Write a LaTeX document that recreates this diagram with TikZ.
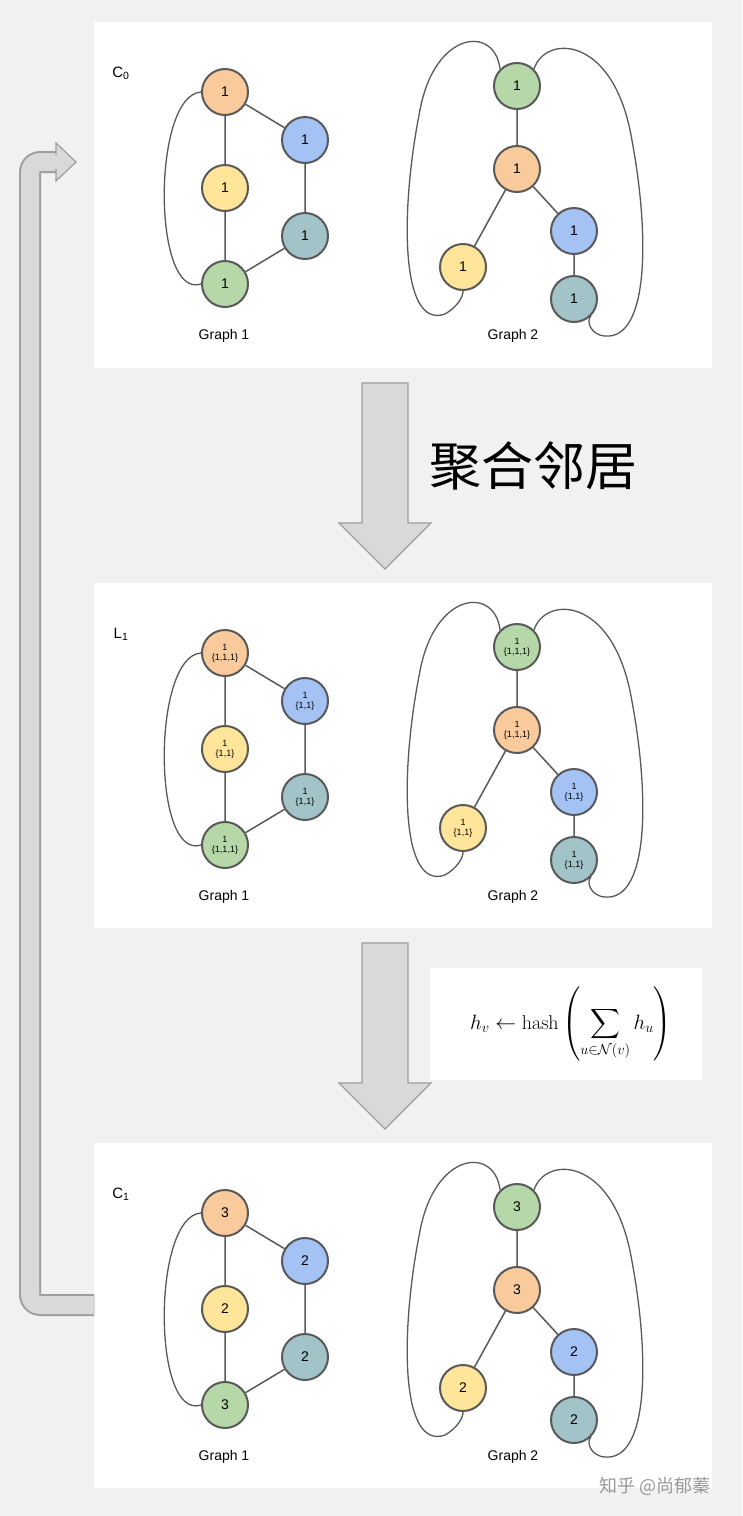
\documentclass[tikz,border=0pt]{standalone}
\usepackage{fontspec}
\setmainfont{Liberation Sans}
\newfontfamily\cjk{Noto Sans CJK SC}
\newfontfamily\lmr{Latin Modern Roman}
\usepackage{amsmath}
\usetikzlibrary{calc}
\definecolor{cor}{HTML}{F9CB9C}
\definecolor{cye}{HTML}{FFE599}
\definecolor{cgr}{HTML}{B6D7A8}
\definecolor{cbl}{HTML}{A4C2F4}
\definecolor{cte}{HTML}{A2C4C9}
\definecolor{edge}{HTML}{595959}
\definecolor{bg}{HTML}{F1F1F1}
\definecolor{arrfill}{HTML}{D9D9D9}
\definecolor{arrline}{HTML}{9E9E9E}
\tikzset{
 gn/.style={circle,draw=edge,line width=2pt,minimum size=46pt,inner sep=0pt,font=\fontsize{14}{14}\selectfont,align=center},
 ed/.style={draw=edge,line width=1.5pt},
 lp/.style={draw=edge,line width=1.3pt},
 panel/.style={fill=white,draw=none},
 bigarrow/.style={fill=arrfill,draw=arrline,line width=1.2pt},
}
\newcommand\gone[7]{%
 \begin{scope}[yshift=-#1pt]
 \node[gn,fill=cor,font=#7] (#2o) at (225,92) {#3};
 \node[gn,fill=cye,font=#7] (#2y) at (225,188) {#4};
 \node[gn,fill=cgr,font=#7] (#2g) at (225,284) {#3};
 \node[gn,fill=cbl,font=#7] (#2b) at (305,140) {#5};
 \node[gn,fill=cte,font=#7] (#2t) at (305,236) {#6};
 \draw[ed] (#2o)--(#2y) (#2y)--(#2g) (#2o)--(#2b) (#2b)--(#2t) (#2t)--(#2g);
 \draw[lp] (#2o.west) .. controls (152,95) and (152,300) .. (#2g.west);
 \node (#2lab) at (224,336) {\fontsize{14}{14}\selectfont Graph 1};
 \end{scope}}
\newcommand\gtwo[7]{%
 \begin{scope}[yshift=-#1pt]
 \node[gn,fill=cgr,font=#7] (#2g) at (517,86) {#3};
 \node[gn,fill=cor,font=#7] (#2o) at (517,169) {#3};
 \node[gn,fill=cye,font=#7] (#2y) at (463,267) {#4};
 \node[gn,fill=cbl,font=#7] (#2b) at (574,231) {#5};
 \node[gn,fill=cte,font=#7] (#2t) at (574,299) {#6};
 \draw[ed] (#2g)--(#2o) (#2o)--(#2y) (#2o)--(#2b) (#2b)--(#2t);
 \draw[lp] (#2g.north west) .. controls (495,25) and (435,30) .. (420,110)
   .. controls (400,210) and (400,330) .. (445,314) .. controls (460,305) and (463,295) .. (#2y.south);
 \draw[lp] (#2g.north east) .. controls (545,35) and (610,35) .. (630,130)
   .. controls (650,230) and (650,340) .. (605,336) .. controls (590,335) and (586,320) .. (#2t.south east);
 \node (#2lab) at (513,336) {\fontsize{14}{14}\selectfont Graph 2};
 \end{scope}}
\begin{document}
\begin{tikzpicture}[x=1pt,y=-1pt]
\fill[bg] (0,0) rectangle (742,1516);
\useasboundingbox (0,0) rectangle (742,1516);
\fill[panel] (94,22) rectangle (712,368);
\fill[panel] (94,583) rectangle (712,928);
\fill[panel] (94,1143) rectangle (712,1488);
% left loop arrow
\draw[arrline,line width=22pt,line join=round] (94,1305) -- (40,1305) arc[start angle=90,end angle=180,radius=10] -- (30,172) arc[start angle=180,end angle=270,radius=10] -- (58,162);
\draw[arrfill,line width=18pt,line join=round] (95,1305) -- (40,1305) arc[start angle=90,end angle=180,radius=10] -- (30,172) arc[start angle=180,end angle=270,radius=10] -- (59,162);
\draw[bigarrow] (56,143) -- (76,162) -- (56,181) -- cycle;
\fill[arrfill] (54,155) rectangle (62,169);
% down arrows
\draw[bigarrow] (362,383) -- (408,383) -- (408,523) -- (431,523) -- (385,569) -- (339,523) -- (362,523) -- cycle;
\draw[bigarrow] (362,943) -- (408,943) -- (408,1083) -- (431,1083) -- (385,1129) -- (339,1083) -- (362,1083) -- cycle;
\node (agg) at (533,466) {\cjk\fontsize{52}{52}\selectfont 聚合邻居};
\fill[white] (430,968) rectangle (702,1080);
\node (form) at (571,1024) {\fontsize{20}{20}\selectfont $\displaystyle h_v \leftarrow \text{\lmr hash}\left(\sum_{u\in\mathcal{N}(v)} h_u\right)$};
% panels
\node (c0) at (121,73) {\fontsize{15}{15}\selectfont C\textsubscript{0}};
\node (l1) at (121,634) {\fontsize{15}{15}\selectfont L\textsubscript{1}};
\node (c1) at (121,1194) {\fontsize{15}{15}\selectfont C\textsubscript{1}};
\gone{0}{a}{1}{1}{1}{1}{\fontsize{14}{14}\selectfont}
\gtwo{0}{b}{1}{1}{1}{1}{\fontsize{14}{14}\selectfont}
\gone{561}{c}{1\\\{1,1,1\}}{1\\\{1,1\}}{1\\\{1,1\}}{1\\\{1,1\}}{\fontsize{9}{10}\selectfont}
\gtwo{561}{d}{1\\\{1,1,1\}}{1\\\{1,1\}}{1\\\{1,1\}}{1\\\{1,1\}}{\fontsize{9}{10}\selectfont}
\gone{1121}{e}{3}{2}{2}{2}{\fontsize{14}{14}\selectfont}
\gtwo{1121}{f}{3}{2}{2}{2}{\fontsize{14}{14}\selectfont}
\node[text=gray!80] (wm) at (655,1486) {\cjk\fontsize{18}{18}\selectfont 知乎 @尚郁蓁};
\end{tikzpicture}
\end{document}
